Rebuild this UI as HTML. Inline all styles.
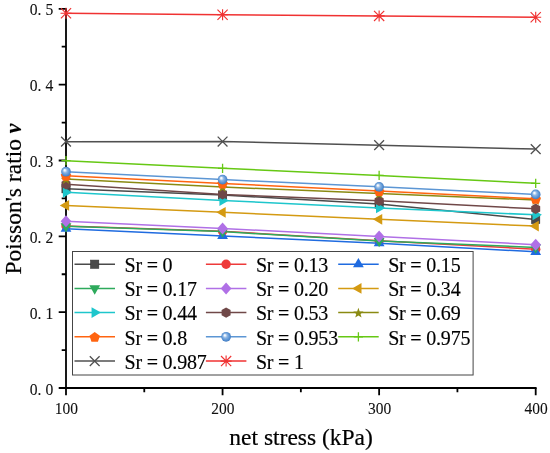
<!DOCTYPE html>
<html><head><meta charset="utf-8"><style>
html,body{margin:0;padding:0;background:#fff;}
svg{display:block;}
.tl{font-family:"Liberation Serif",serif;font-size:17px;fill:#111;stroke:#111;stroke-width:0.1px;}
.at{font-family:"Liberation Serif",serif;font-size:23.5px;fill:#000;stroke:#000;stroke-width:0.2px;}
.lt{font-family:"Liberation Serif",serif;font-size:20px;fill:#000;stroke:#000;stroke-width:0.15px;letter-spacing:-0.2px;}
</style></head><body>
<svg width="550" height="453" viewBox="0 0 550 453">
<defs><radialGradient id="sph" cx="0.5" cy="0.5" r="0.55" fx="0.34" fy="0.32"><stop offset="0" stop-color="#ffffff"/><stop offset="0.12" stop-color="#f4f8fd"/><stop offset="0.4" stop-color="#8db6e4"/><stop offset="0.75" stop-color="#5690d2"/><stop offset="1" stop-color="#3a74bc"/></radialGradient></defs>
<rect width="550" height="453" fill="#fff"/>
<path d="M66.0 8.3V388.9M65.1 388.0H536.6" stroke="#000" stroke-width="1.8" fill="none"/>
<path d="M66.0 388.00H58.7M66.0 312.16H58.7M66.0 236.32H58.7M66.0 160.48H58.7M66.0 84.64H58.7M66.0 8.80H58.7M66.0 350.08H61.7M66.0 274.24H61.7M66.0 198.40H61.7M66.0 122.56H61.7M66.0 46.72H61.7M66.00 388.0V395.3M222.57 388.0V395.3M379.13 388.0V395.3M535.70 388.0V395.3M144.28 388.0V392.3M300.85 388.0V392.3M457.42 388.0V392.3" stroke="#000" stroke-width="1.8" fill="none"/>
<polyline points="66.00,188.77 222.57,194.99 379.13,204.09 535.70,219.48" fill="none" stroke="#4a4a4a" stroke-width="1.5"/>
<rect x="61.90" y="184.67" width="8.2" height="8.2" fill="#4a4a4a" stroke="#333" stroke-width="0.6"/>
<rect x="218.47" y="190.89" width="8.2" height="8.2" fill="#4a4a4a" stroke="#333" stroke-width="0.6"/>
<rect x="375.03" y="199.99" width="8.2" height="8.2" fill="#4a4a4a" stroke="#333" stroke-width="0.6"/>
<rect x="531.60" y="215.38" width="8.2" height="8.2" fill="#4a4a4a" stroke="#333" stroke-width="0.6"/>
<polyline points="66.00,225.93 222.57,231.24 379.13,240.79 535.70,249.21" fill="none" stroke="#ee3a3a" stroke-width="1.5"/>
<circle cx="66.00" cy="225.93" r="4.7" fill="#ee3a3a"/>
<circle cx="222.57" cy="231.24" r="4.7" fill="#ee3a3a"/>
<circle cx="379.13" cy="240.79" r="4.7" fill="#ee3a3a"/>
<circle cx="535.70" cy="249.21" r="4.7" fill="#ee3a3a"/>
<polyline points="66.00,228.74 222.57,235.94 379.13,243.22 535.70,251.87" fill="none" stroke="#1f6be0" stroke-width="1.5"/>
<polygon points="66.00,222.50 60.60,231.85 71.40,231.85" fill="#1f6be0"/>
<polygon points="222.57,229.71 217.17,239.06 227.97,239.06" fill="#1f6be0"/>
<polygon points="379.13,236.99 373.73,246.34 384.53,246.34" fill="#1f6be0"/>
<polygon points="535.70,245.63 530.30,254.98 541.10,254.98" fill="#1f6be0"/>
<polyline points="66.00,226.31 222.57,231.62 379.13,241.10 535.70,247.39" fill="none" stroke="#2eaa5c" stroke-width="1.5"/>
<polygon points="66.00,232.54 60.60,223.19 71.40,223.19" fill="#2eaa5c"/>
<polygon points="222.57,237.85 217.17,228.50 227.97,228.50" fill="#2eaa5c"/>
<polygon points="379.13,247.33 373.73,237.98 384.53,237.98" fill="#2eaa5c"/>
<polygon points="535.70,253.63 530.30,244.27 541.10,244.27" fill="#2eaa5c"/>
<polyline points="66.00,221.15 222.57,228.43 379.13,236.55 535.70,244.66" fill="none" stroke="#b070e6" stroke-width="1.5"/>
<polygon points="66.00,215.15 71.35,221.15 66.00,227.15 60.65,221.15" fill="#b070e6"/>
<polygon points="222.57,222.43 227.92,228.43 222.57,234.43 217.22,228.43" fill="#b070e6"/>
<polygon points="379.13,230.55 384.48,236.55 379.13,242.55 373.78,236.55" fill="#b070e6"/>
<polygon points="535.70,238.66 541.05,244.66 535.70,250.66 530.35,244.66" fill="#b070e6"/>
<polyline points="66.00,205.38 222.57,212.28 379.13,219.33 535.70,226.08" fill="none" stroke="#d49a12" stroke-width="1.5"/>
<polygon points="59.76,205.38 69.12,199.98 69.12,210.78" fill="#d49a12"/>
<polygon points="216.33,212.28 225.68,206.88 225.68,217.68" fill="#d49a12"/>
<polygon points="372.90,219.33 382.25,213.93 382.25,224.73" fill="#d49a12"/>
<polygon points="529.46,226.08 538.82,220.68 538.82,231.48" fill="#d49a12"/>
<polyline points="66.00,192.33 222.57,200.52 379.13,207.88 535.70,214.86" fill="none" stroke="#1ec6cc" stroke-width="1.5"/>
<polygon points="72.24,192.33 62.88,186.93 62.88,197.73" fill="#1ec6cc"/>
<polygon points="228.80,200.52 219.45,195.12 219.45,205.92" fill="#1ec6cc"/>
<polygon points="385.37,207.88 376.02,202.48 376.02,213.28" fill="#1ec6cc"/>
<polygon points="541.94,214.86 532.58,209.46 532.58,220.26" fill="#1ec6cc"/>
<polyline points="66.00,184.29 222.57,194.38 379.13,200.83 535.70,208.79" fill="none" stroke="#704848" stroke-width="1.5"/>
<polygon points="66.00,179.09 70.50,181.69 70.50,186.89 66.00,189.49 61.50,186.89 61.50,181.69" fill="#704848"/>
<polygon points="222.57,189.18 227.07,191.78 227.07,196.98 222.57,199.58 218.06,196.98 218.06,191.78" fill="#704848"/>
<polygon points="379.13,195.63 383.64,198.23 383.64,203.43 379.13,206.03 374.63,203.43 374.63,198.23" fill="#704848"/>
<polygon points="535.70,203.59 540.20,206.19 540.20,211.39 535.70,213.99 531.20,211.39 531.20,206.19" fill="#704848"/>
<polyline points="66.00,178.98 222.57,187.02 379.13,193.62 535.70,199.92" fill="none" stroke="#8a8a12" stroke-width="1.5"/>
<polygon points="66.00,174.18 67.29,177.81 71.14,177.92 68.09,180.26 69.17,183.95 66.00,181.78 62.83,183.95 63.91,180.26 60.86,177.92 64.71,177.81" fill="#8a8a12"/>
<polygon points="222.57,182.22 223.86,185.84 227.70,185.96 224.66,188.30 225.74,191.99 222.57,189.82 219.39,191.99 220.47,188.30 217.43,185.96 221.27,185.84" fill="#8a8a12"/>
<polygon points="379.13,188.82 380.43,192.44 384.27,192.55 381.23,194.90 382.31,198.59 379.13,196.42 375.96,198.59 377.04,194.90 374.00,192.55 377.84,192.44" fill="#8a8a12"/>
<polygon points="535.70,195.12 536.99,198.74 540.84,198.85 537.79,201.20 538.87,204.89 535.70,202.72 532.53,204.89 533.61,201.20 530.56,198.85 534.41,198.74" fill="#8a8a12"/>
<polyline points="66.00,175.65 222.57,183.46 379.13,191.04 535.70,198.78" fill="none" stroke="#ff6410" stroke-width="1.5"/>
<polygon points="66.00,170.75 71.23,174.55 69.23,180.70 62.77,180.70 60.77,174.55" fill="#ff6410"/>
<polygon points="222.57,178.56 227.80,182.36 225.80,188.51 219.33,188.51 217.34,182.36" fill="#ff6410"/>
<polygon points="379.13,186.14 384.36,189.94 382.37,196.09 375.90,196.09 373.90,189.94" fill="#ff6410"/>
<polygon points="535.70,193.88 540.93,197.68 538.93,203.83 532.47,203.83 530.47,197.68" fill="#ff6410"/>
<polyline points="66.00,171.70 222.57,179.59 379.13,186.87 535.70,194.38" fill="none" stroke="#5c96d4" stroke-width="1.5"/>
<circle cx="66.00" cy="171.70" r="4.85" fill="url(#sph)"/>
<circle cx="222.57" cy="179.59" r="4.85" fill="url(#sph)"/>
<circle cx="379.13" cy="186.87" r="4.85" fill="url(#sph)"/>
<circle cx="535.70" cy="194.38" r="4.85" fill="url(#sph)"/>
<polyline points="66.00,160.63 222.57,168.29 379.13,175.42 535.70,183.31" fill="none" stroke="#66c814" stroke-width="1.5"/>
<path d="M61.40 160.63H70.60M66.00 156.03V165.23" stroke="#66c814" stroke-width="1.3" fill="none"/>
<path d="M217.97 168.29H227.17M222.57 163.69V172.89" stroke="#66c814" stroke-width="1.3" fill="none"/>
<path d="M374.53 175.42H383.73M379.13 170.82V180.02" stroke="#66c814" stroke-width="1.3" fill="none"/>
<path d="M531.10 183.31H540.30M535.70 178.71V187.91" stroke="#66c814" stroke-width="1.3" fill="none"/>
<polyline points="66.00,141.67 222.57,141.52 379.13,145.16 535.70,149.10" fill="none" stroke="#505050" stroke-width="1.5"/>
<path d="M61.10 136.77L70.90 146.57M61.10 146.57L70.90 136.77" stroke="#505050" stroke-width="1.3" fill="none"/>
<path d="M217.67 136.62L227.47 146.42M217.67 146.42L227.47 136.62" stroke="#505050" stroke-width="1.3" fill="none"/>
<path d="M374.23 140.26L384.03 150.06M374.23 150.06L384.03 140.26" stroke="#505050" stroke-width="1.3" fill="none"/>
<path d="M530.80 144.20L540.60 154.00M530.80 154.00L540.60 144.20" stroke="#505050" stroke-width="1.3" fill="none"/>
<polyline points="66.00,13.20 222.57,14.72 379.13,15.93 535.70,17.22" fill="none" stroke="#f03232" stroke-width="1.5"/>
<path d="M60.50 13.20H71.50M66.00 7.70V18.70M60.90 8.10L71.10 18.30M60.90 18.30L71.10 8.10" stroke="#f03232" stroke-width="1.15" fill="none"/>
<path d="M217.07 14.72H228.07M222.57 9.22V20.22M217.47 9.62L227.67 19.82M217.47 19.82L227.67 9.62" stroke="#f03232" stroke-width="1.15" fill="none"/>
<path d="M373.63 15.93H384.63M379.13 10.43V21.43M374.03 10.83L384.23 21.03M374.03 21.03L384.23 10.83" stroke="#f03232" stroke-width="1.15" fill="none"/>
<path d="M530.20 17.22H541.20M535.70 11.72V22.72M530.60 12.12L540.80 22.32M530.60 22.32L540.80 12.12" stroke="#f03232" stroke-width="1.15" fill="none"/>
<text transform="translate(53.2,394.60) scale(0.92,1)" text-anchor="end" class="tl">0. 0</text>
<text transform="translate(53.2,318.76) scale(0.92,1)" text-anchor="end" class="tl">0. 1</text>
<text transform="translate(53.2,242.92) scale(0.92,1)" text-anchor="end" class="tl">0. 2</text>
<text transform="translate(53.2,167.08) scale(0.92,1)" text-anchor="end" class="tl">0. 3</text>
<text transform="translate(53.2,91.24) scale(0.92,1)" text-anchor="end" class="tl">0. 4</text>
<text transform="translate(53.2,15.40) scale(0.92,1)" text-anchor="end" class="tl">0. 5</text>
<text transform="translate(66.40,414.4) scale(0.91,1)" text-anchor="middle" class="tl">100</text>
<text transform="translate(222.97,414.4) scale(0.91,1)" text-anchor="middle" class="tl">200</text>
<text transform="translate(379.53,414.4) scale(0.91,1)" text-anchor="middle" class="tl">300</text>
<text transform="translate(536.10,414.4) scale(0.91,1)" text-anchor="middle" class="tl">400</text>
<text x="301.1" y="444.8" text-anchor="middle" class="at">net stress (kPa)</text>
<text transform="translate(20.6,274.5) rotate(-90)" class="at">Poisson's ratio <tspan font-weight="bold" font-style="italic" textLength="9.6" lengthAdjust="spacingAndGlyphs">ν</tspan></text>
<rect x="72.5" y="251.5" width="400.6" height="123.5" fill="#fff" stroke="#454545" stroke-width="1"/>
<path d="M74.50 264.20H115.00" stroke="#4a4a4a" stroke-width="1.5"/>
<rect x="90.60" y="260.10" width="8.2" height="8.2" fill="#4a4a4a" stroke="#333" stroke-width="0.6"/>
<text x="124.50" y="272.00" class="lt">Sr = 0</text>
<path d="M205.90 264.20H246.40" stroke="#ee3a3a" stroke-width="1.5"/>
<circle cx="226.10" cy="264.20" r="4.7" fill="#ee3a3a"/>
<text x="255.90" y="272.00" class="lt">Sr = 0.13</text>
<path d="M338.20 264.20H378.70" stroke="#1f6be0" stroke-width="1.5"/>
<polygon points="358.40,257.96 353.00,267.32 363.80,267.32" fill="#1f6be0"/>
<text x="388.20" y="272.00" class="lt">Sr = 0.15</text>
<path d="M74.50 288.40H115.00" stroke="#2eaa5c" stroke-width="1.5"/>
<polygon points="94.70,294.64 89.30,285.28 100.10,285.28" fill="#2eaa5c"/>
<text x="124.50" y="296.20" class="lt">Sr = 0.17</text>
<path d="M205.90 288.40H246.40" stroke="#b070e6" stroke-width="1.5"/>
<polygon points="226.10,282.40 231.45,288.40 226.10,294.40 220.75,288.40" fill="#b070e6"/>
<text x="255.90" y="296.20" class="lt">Sr = 0.20</text>
<path d="M338.20 288.40H378.70" stroke="#d49a12" stroke-width="1.5"/>
<polygon points="352.16,288.40 361.52,283.00 361.52,293.80" fill="#d49a12"/>
<text x="388.20" y="296.20" class="lt">Sr = 0.34</text>
<path d="M74.50 312.60H115.00" stroke="#1ec6cc" stroke-width="1.5"/>
<polygon points="100.94,312.60 91.58,307.20 91.58,318.00" fill="#1ec6cc"/>
<text x="124.50" y="320.40" class="lt">Sr = 0.44</text>
<path d="M205.90 312.60H246.40" stroke="#704848" stroke-width="1.5"/>
<polygon points="226.10,307.40 230.60,310.00 230.60,315.20 226.10,317.80 221.60,315.20 221.60,310.00" fill="#704848"/>
<text x="255.90" y="320.40" class="lt">Sr = 0.53</text>
<path d="M338.20 312.60H378.70" stroke="#8a8a12" stroke-width="1.5"/>
<polygon points="358.40,307.80 359.69,311.42 363.54,311.53 360.49,313.88 361.57,317.57 358.40,315.40 355.23,317.57 356.31,313.88 353.26,311.53 357.11,311.42" fill="#8a8a12"/>
<text x="388.20" y="320.40" class="lt">Sr = 0.69</text>
<path d="M74.50 336.80H115.00" stroke="#ff6410" stroke-width="1.5"/>
<polygon points="94.70,331.90 99.93,335.70 97.93,341.85 91.47,341.85 89.47,335.70" fill="#ff6410"/>
<text x="124.50" y="344.60" class="lt">Sr = 0.8</text>
<path d="M205.90 336.80H246.40" stroke="#5c96d4" stroke-width="1.5"/>
<circle cx="226.10" cy="336.80" r="4.85" fill="url(#sph)"/>
<text x="255.90" y="344.60" class="lt">Sr = 0.953</text>
<path d="M338.20 336.80H378.70" stroke="#66c814" stroke-width="1.5"/>
<path d="M353.80 336.80H363.00M358.40 332.20V341.40" stroke="#66c814" stroke-width="1.3" fill="none"/>
<text x="388.20" y="344.60" class="lt">Sr = 0.975</text>
<path d="M74.50 361.10H115.00" stroke="#505050" stroke-width="1.5"/>
<path d="M89.80 356.20L99.60 366.00M89.80 366.00L99.60 356.20" stroke="#505050" stroke-width="1.3" fill="none"/>
<text x="124.50" y="368.90" class="lt">Sr = 0.987</text>
<path d="M205.90 361.10H246.40" stroke="#f03232" stroke-width="1.5"/>
<path d="M220.60 361.10H231.60M226.10 355.60V366.60M221.00 356.00L231.20 366.20M221.00 366.20L231.20 356.00" stroke="#f03232" stroke-width="1.15" fill="none"/>
<text x="255.90" y="368.90" class="lt">Sr = 1</text>
</svg>
</body></html>
